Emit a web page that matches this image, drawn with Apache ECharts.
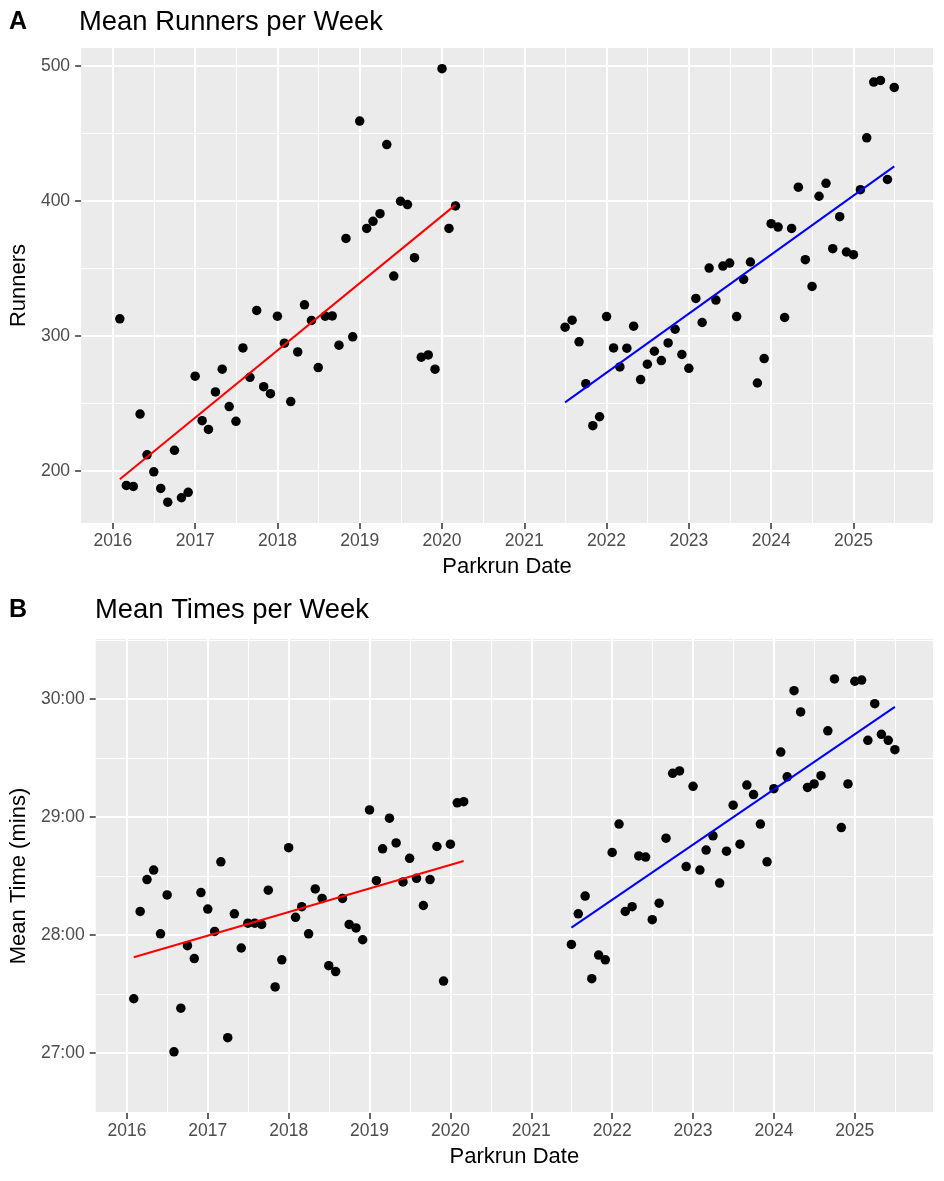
<!DOCTYPE html>
<html>
<head>
<meta charset="utf-8">
<script src="https://cdn.jsdelivr.net/npm/echarts@6/dist/echarts.min.js"></script>
<style>
html, body { margin: 0; padding: 0; background: #fff; }
#chart { width: 944px; height: 1181px; }
</style>
</head>
<body>
<div id="chart"></div>
<script>
// monthly parkrun means, before and after the covid gap
const monthsBefore = [
  '2016-02','2016-03','2016-04','2016-05','2016-06','2016-07','2016-08','2016-09','2016-10','2016-11','2016-12',
  '2017-01','2017-02','2017-03','2017-04','2017-05','2017-06','2017-07','2017-08','2017-09','2017-10','2017-11','2017-12',
  '2018-01','2018-02','2018-03','2018-04','2018-05','2018-06','2018-07','2018-08','2018-09','2018-10','2018-11','2018-12',
  '2019-01','2019-02','2019-03','2019-04','2019-05','2019-06','2019-07','2019-08','2019-09','2019-10','2019-11','2019-12',
  '2020-01','2020-02','2020-03'
];
const monthsAfter = [
  '2021-07','2021-08','2021-09','2021-10','2021-11','2021-12',
  '2022-01','2022-02','2022-03','2022-04','2022-05','2022-06','2022-07','2022-08','2022-09','2022-10','2022-11','2022-12',
  '2023-01','2023-02','2023-03','2023-04','2023-05','2023-06','2023-07','2023-08','2023-09','2023-10','2023-11','2023-12',
  '2024-01','2024-02','2024-03','2024-04','2024-05','2024-06','2024-07','2024-08','2024-09','2024-10','2024-11','2024-12',
  '2025-01','2025-02','2025-03','2025-04','2025-05','2025-06','2025-07'
];

const runnersBefore = [
  312.5, 189.1, 188.4, 242, 211.8, 199.2, 186.9, 176.7, 215.1, 180,
  184, 270, 237.1, 230.6, 258.4, 275.2, 247.5, 236.6, 291, 269.2,
  318.7, 262.3, 257.1, 314.5, 294.5, 251.2, 288, 322.9, 311.3, 276.4,
  314.5, 314.7, 293, 372.1, 299.2, 459, 379.5, 384.7, 390.4, 441.6,
  344.2, 399.6, 397.1, 357.8, 284.1, 285.8, 275.2, 497.8, 379.5, 396.1
];
const runnersAfter = [
  306.3, 311.5, 295.5, 264.5, 233.4, 240, 314.2, 291, 276.9, 290.8,
  307.1, 267.5, 278.9, 288.5, 281.6, 294.7, 304.8, 286.1, 275.9, 327.6,
  309.8, 350.1, 326.4, 351.6, 353.8, 314.2, 341.7, 354.6, 265, 283.1,
  383, 380.5, 313.5, 379.5, 410, 356.3, 336.5, 403.3, 412.9, 364.5,
  388.2, 362, 360, 408.2, 446.6, 487.9, 489.1, 415.7, 483.9
];

// mean finishing time in minutes
const timesBefore = [
  27.46, 28.20, 28.47, 28.55, 28.01, 28.34, 27.01, 27.38, 27.91, 27.80,
  28.36, 28.22, 28.03, 28.62, 27.13, 28.18, 27.89, 28.10, 28.10, 28.09,
  28.38, 27.56, 27.79, 28.74, 28.15, 28.24, 28.01, 28.39, 28.31, 27.74,
  27.69, 28.31, 28.09, 28.06, 27.96, 29.06, 28.46, 28.73, 28.99, 28.78,
  28.45, 28.65, 28.48, 28.25, 28.47, 28.75, 27.61, 28.77, 29.12, 29.13
];
const timesAfter = [
  27.92, 28.18, 28.33, 27.63, 27.83, 27.79, 28.70, 28.94, 28.20, 28.24,
  28.67, 28.66, 28.13, 28.27, 28.82, 29.37, 29.39, 28.58, 29.26, 28.55,
  28.72, 28.84, 28.44, 28.71, 29.10, 28.77, 29.27, 29.19, 28.94, 28.62,
  29.24, 29.55, 29.34, 30.07, 29.89, 29.25, 29.28, 29.35, 29.73, 30.17,
  28.91, 29.28, 30.15, 30.16, 29.65, 29.96, 29.70, 29.65, 29.57
];

const yearTicks = [2016, 2017, 2018, 2019, 2020, 2021, 2022, 2023, 2024, 2025];
const yearMinorTicks = [2016.5, 2017.5, 2018.5, 2019.5, 2020.5, 2021.5, 2022.5, 2023.5, 2024.5, 2025.5];
const runnerTicks = [200, 300, 400, 500];
const runnerMinorTicks = [250, 350, 450];
const timeTicks = [27, 28, 29, 30];
const timeMinorTicks = [26.5, 27.5, 28.5, 29.5, 30.5];

const FONT = 'Liberation Sans, Arial, Helvetica, sans-serif';

function toYear(m) {
  const [y, mo] = m.split('-').map(Number);
  const start = Date.UTC(y, 0, 1), end = Date.UTC(y + 1, 0, 1);
  return y + (Date.UTC(y, mo - 1, 1) - start) / (end - start);
}

function pairs(months, vals) {
  return months.map((m, i) => [toYear(m), vals[i]]);
}

// straight lm fit over the points, drawn across their x range
function fitLine(pts) {
  const n = pts.length;
  let sx = 0, sy = 0, sxx = 0, sxy = 0;
  pts.forEach(p => { sx += p[0]; sy += p[1]; sxx += p[0] * p[0]; sxy += p[0] * p[1]; });
  const b = (n * sxy - sx * sy) / (n * sxx - sx * sx);
  const a = (sy - b * sx) / n;
  const x0 = pts[0][0], x1 = pts[n - 1][0];
  return [[x0, a + b * x0], [x1, a + b * x1]];
}

function mmss(v) {
  const m = Math.floor(v + 1e-9);
  const s = Math.round((v - m) * 60);
  return m + ':' + (s < 10 ? '0' + s : s);
}

const xMin = 2015.614, xMax = 2025.967;

function xAxesFor(grid) {
  return [{
    type: 'value', gridIndex: grid, min: xMin, max: xMax, position: 'bottom',
    axisLine: { show: false },
    axisTick: { show: true, customValues: yearTicks, length: 6, lineStyle: { color: '#333333', width: 1.5 } },
    axisLabel: { customValues: yearTicks, formatter: v => String(Math.round(v)), color: '#4D4D4D', fontSize: 17.5, fontFamily: FONT, margin: 9 },
    splitLine: { show: true, lineStyle: { color: '#ffffff', width: 2 } },
    name: 'Parkrun Date', nameLocation: 'middle', nameGap: 33,
    nameTextStyle: { color: '#000', fontSize: 22, fontFamily: FONT }
  }, {
    type: 'value', gridIndex: grid, min: xMin, max: xMax, position: 'top',
    axisLine: { show: false },
    axisTick: { show: false, customValues: yearMinorTicks },
    axisLabel: { show: false, customValues: yearMinorTicks },
    splitLine: { show: true, lineStyle: { color: '#ffffff', width: 1 } }
  }];
}

function yAxesFor(grid, min, max, ticks, minor, name, gap, fmt) {
  return [{
    type: 'value', gridIndex: grid, min: min, max: max, position: 'left',
    axisLine: { show: false },
    axisTick: { show: true, customValues: ticks, length: 6, lineStyle: { color: '#333333', width: 1.5 } },
    axisLabel: { customValues: ticks, formatter: fmt, color: '#4D4D4D', fontSize: 17.5, fontFamily: FONT, margin: 11 },
    splitLine: { show: true, lineStyle: { color: '#ffffff', width: 2 } },
    name: name, nameLocation: 'middle', nameGap: gap, nameRotate: 90,
    nameTextStyle: { color: '#000', fontSize: 22, fontFamily: FONT }
  }, {
    type: 'value', gridIndex: grid, min: min, max: max, position: 'right',
    axisLine: { show: false },
    axisTick: { show: false, customValues: minor },
    axisLabel: { show: false, customValues: minor },
    splitLine: { show: true, lineStyle: { color: '#ffffff', width: 1 } }
  }];
}

function pointSeries(xi, yi, data) {
  return { type: 'scatter', xAxisIndex: xi, yAxisIndex: yi, data: data, symbolSize: 9.5,
           itemStyle: { color: '#000', opacity: 1 }, z: 3, silent: true };
}
function trendSeries(xi, yi, data, color) {
  return { type: 'line', xAxisIndex: xi, yAxisIndex: yi, data: fitLine(data), showSymbol: false,
           lineStyle: { color: color, width: 2 }, z: 4, silent: true };
}

const rBefore = pairs(monthsBefore, runnersBefore);
const rAfter = pairs(monthsAfter, runnersAfter);
const tBefore = pairs(monthsBefore, timesBefore);
const tAfter = pairs(monthsAfter, timesAfter);

const chart = echarts.init(document.getElementById('chart'));
chart.setOption({
  animation: false,
  backgroundColor: '#ffffff',
  textStyle: { fontFamily: FONT },
  title: [
    { text: 'A', left: 9, top: 10, padding: 0, textStyle: { fontSize: 25, fontWeight: 'bold', color: '#000', fontFamily: FONT } },
    { text: 'Mean Runners per Week', left: 79, top: 9, padding: 0, textStyle: { fontSize: 27.4, fontWeight: 'normal', color: '#000', fontFamily: FONT } },
    { text: 'B', left: 9, top: 598, padding: 0, textStyle: { fontSize: 25, fontWeight: 'bold', color: '#000', fontFamily: FONT } },
    { text: 'Mean Times per Week', left: 95, top: 597, padding: 0, textStyle: { fontSize: 27.4, fontWeight: 'normal', color: '#000', fontFamily: FONT } }
  ],
  grid: [
    { left: 79, top: 48, width: 854, height: 475, show: true, backgroundColor: '#EBEBEB', borderWidth: 0, containLabel: false },
    { left: 95, top: 639, width: 838, height: 474, show: true, backgroundColor: '#EBEBEB', borderWidth: 0, containLabel: false }
  ],
  xAxis: [...xAxesFor(0), ...xAxesFor(1)],
  yAxis: [
    ...yAxesFor(0, 161.3, 513.1, runnerTicks, runnerMinorTicks, 'Runners', 48, v => String(Math.round(v))),
    ...yAxesFor(1, 26.492, 30.508, timeTicks, timeMinorTicks, 'Mean Time (mins)', 64, mmss)
  ],
  series: [
    pointSeries(0, 0, rBefore),
    pointSeries(0, 0, rAfter),
    trendSeries(0, 0, rBefore, '#FF0000'),
    trendSeries(0, 0, rAfter, '#0000FF'),
    pointSeries(2, 2, tBefore),
    pointSeries(2, 2, tAfter),
    trendSeries(2, 2, tBefore, '#FF0000'),
    trendSeries(2, 2, tAfter, '#0000FF')
  ]
});
</script>
</body>
</html>
